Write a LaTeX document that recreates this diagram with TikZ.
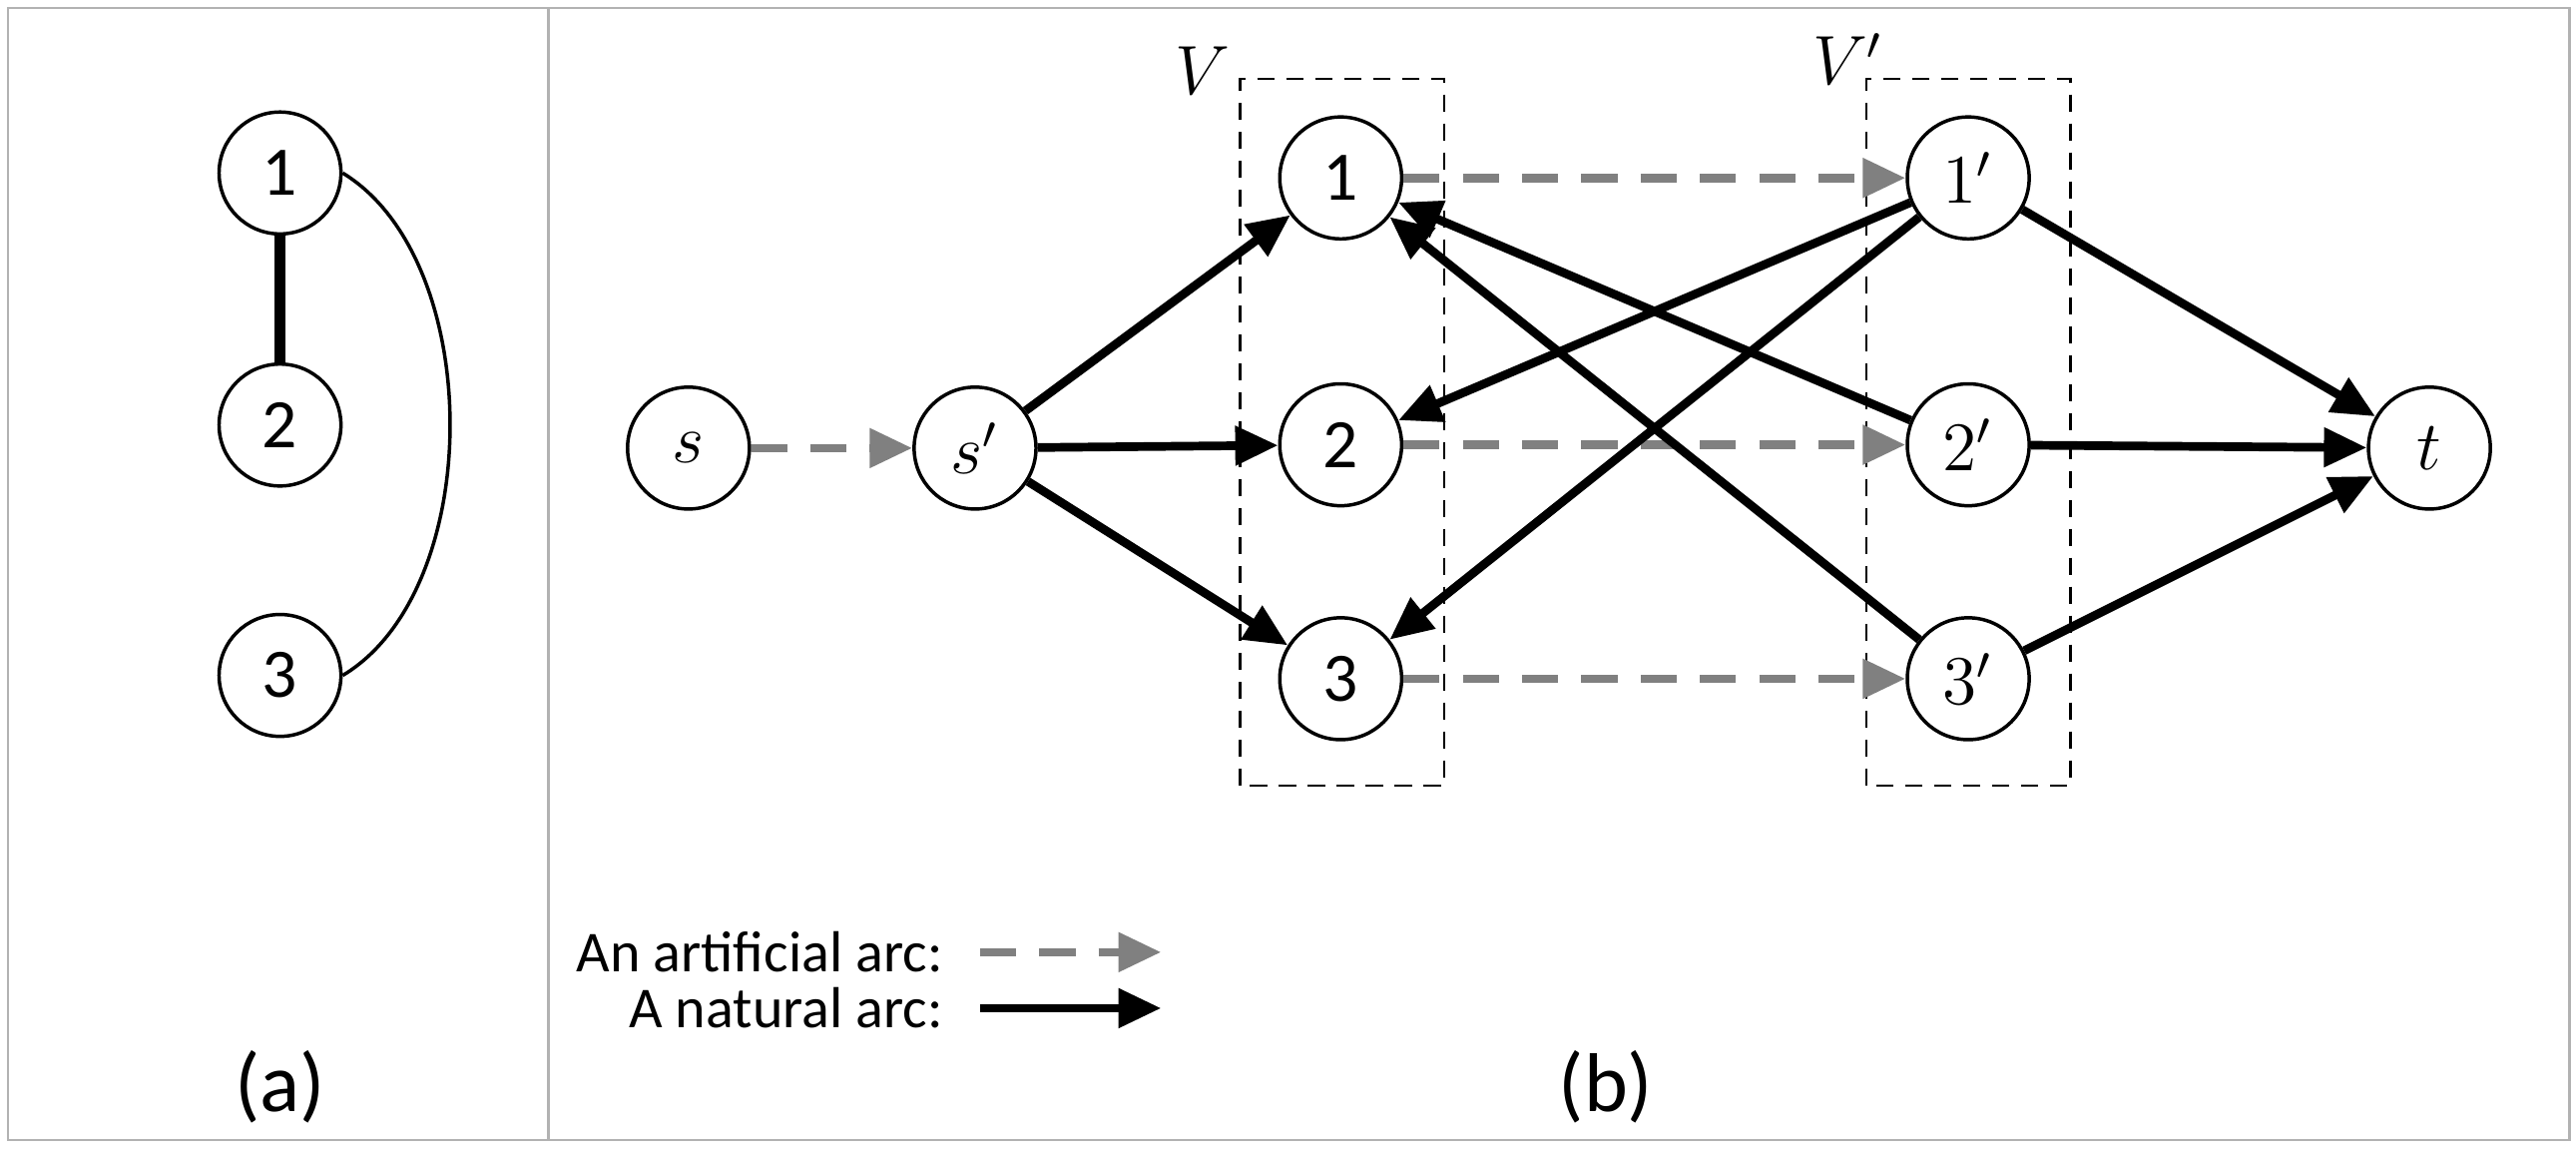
\documentclass[tikz,border=0pt]{standalone}
\usepackage{fontspec}
\setmainfont{Carlito}
\usetikzlibrary{arrows.meta}
\begin{document}
\begin{tikzpicture}[
    vert/.style={circle,draw,semithick,minimum size=0.74cm,inner sep=0pt,font=\large},
    natural/.style={line width=1.5pt,-{Triangle[length=2.6mm,width=2.3mm]}},
    artificial/.style={line width=1.5pt,gray,dash pattern=on 2.2mm off 1.4mm,-{Triangle[length=2.6mm,width=2.3mm]}},
    box/.style={draw,densely dashed,thin}]
    \useasboundingbox (0,0) rectangle (15.64,6.98);
    \draw[gray!60] (0.05,0.06) rectangle (15.60,6.93);
    \draw[gray!60] (3.33,0.06) -- (3.33,6.93);
    % (a)
    \node[vert] (a1) at (1.70,5.93) {1};
    \node[vert] (a2) at (1.70,4.40) {2};
    \node[vert] (a3) at (1.70,2.88) {3};
    \draw[line width=1.8pt] (a1) -- (a2);
    \draw[semithick] (a1.east) .. controls (2.95,5.4) and (2.95,3.4) .. (a3.east);
    \node (la) at (1.70,0.38) {\Large (a)};
    % (b)
    \draw[box] (7.53,2.21) rectangle (8.77,6.50);
    \draw[box] (11.33,2.21) rectangle (12.57,6.50);
    \node (lV) at (7.30,6.55) {\large $V$};
    \node (lW) at (11.22,6.62) {\large $V'$};
    \node[vert] (s) at (4.18,4.26) {$s$};
    \node[vert] (sp) at (5.92,4.26) {$s'$};
    \node[vert] (v1) at (8.14,5.90) {1};
    \node[vert] (v2) at (8.14,4.28) {2};
    \node[vert] (v3) at (8.14,2.86) {3};
    \node[vert] (w1) at (11.95,5.90) {$1'$};
    \node[vert] (w2) at (11.95,4.28) {$2'$};
    \node[vert] (w3) at (11.95,2.86) {$3'$};
    \node[vert] (t) at (14.75,4.26) {$t$};
    \draw[artificial] (s) -- (sp);
    \foreach \i in {1,2,3}
      \draw[natural] (sp) -- (v\i);
    \foreach \i in {1,2,3}
      \draw[artificial] (v\i) -- (w\i);
    \draw[natural] (w1) -- (v2);
    \draw[natural] (w1) -- (v3);
    \draw[natural] (w2) -- (v1);
    \draw[natural] (w3) -- (v1);
    \foreach \i in {1,2,3}
      \draw[natural] (w\i) -- (t);
    \node (lb) at (9.75,0.38) {\Large (b)};
    % legend
    \node[anchor=east] (lart) at (5.85,1.20) {An artificial arc:};
    \node[anchor=east] (lnat) at (5.85,0.86) {A natural arc:};
    \coordinate (ea) at (7.05,1.20);
    \coordinate (en) at (7.05,0.86);
    \draw[artificial] (lart.east) ++(0.1,0) -- (ea);
    \draw[natural] (lnat.east) ++(0.1,0) -- (en);
\end{tikzpicture}
\end{document}
